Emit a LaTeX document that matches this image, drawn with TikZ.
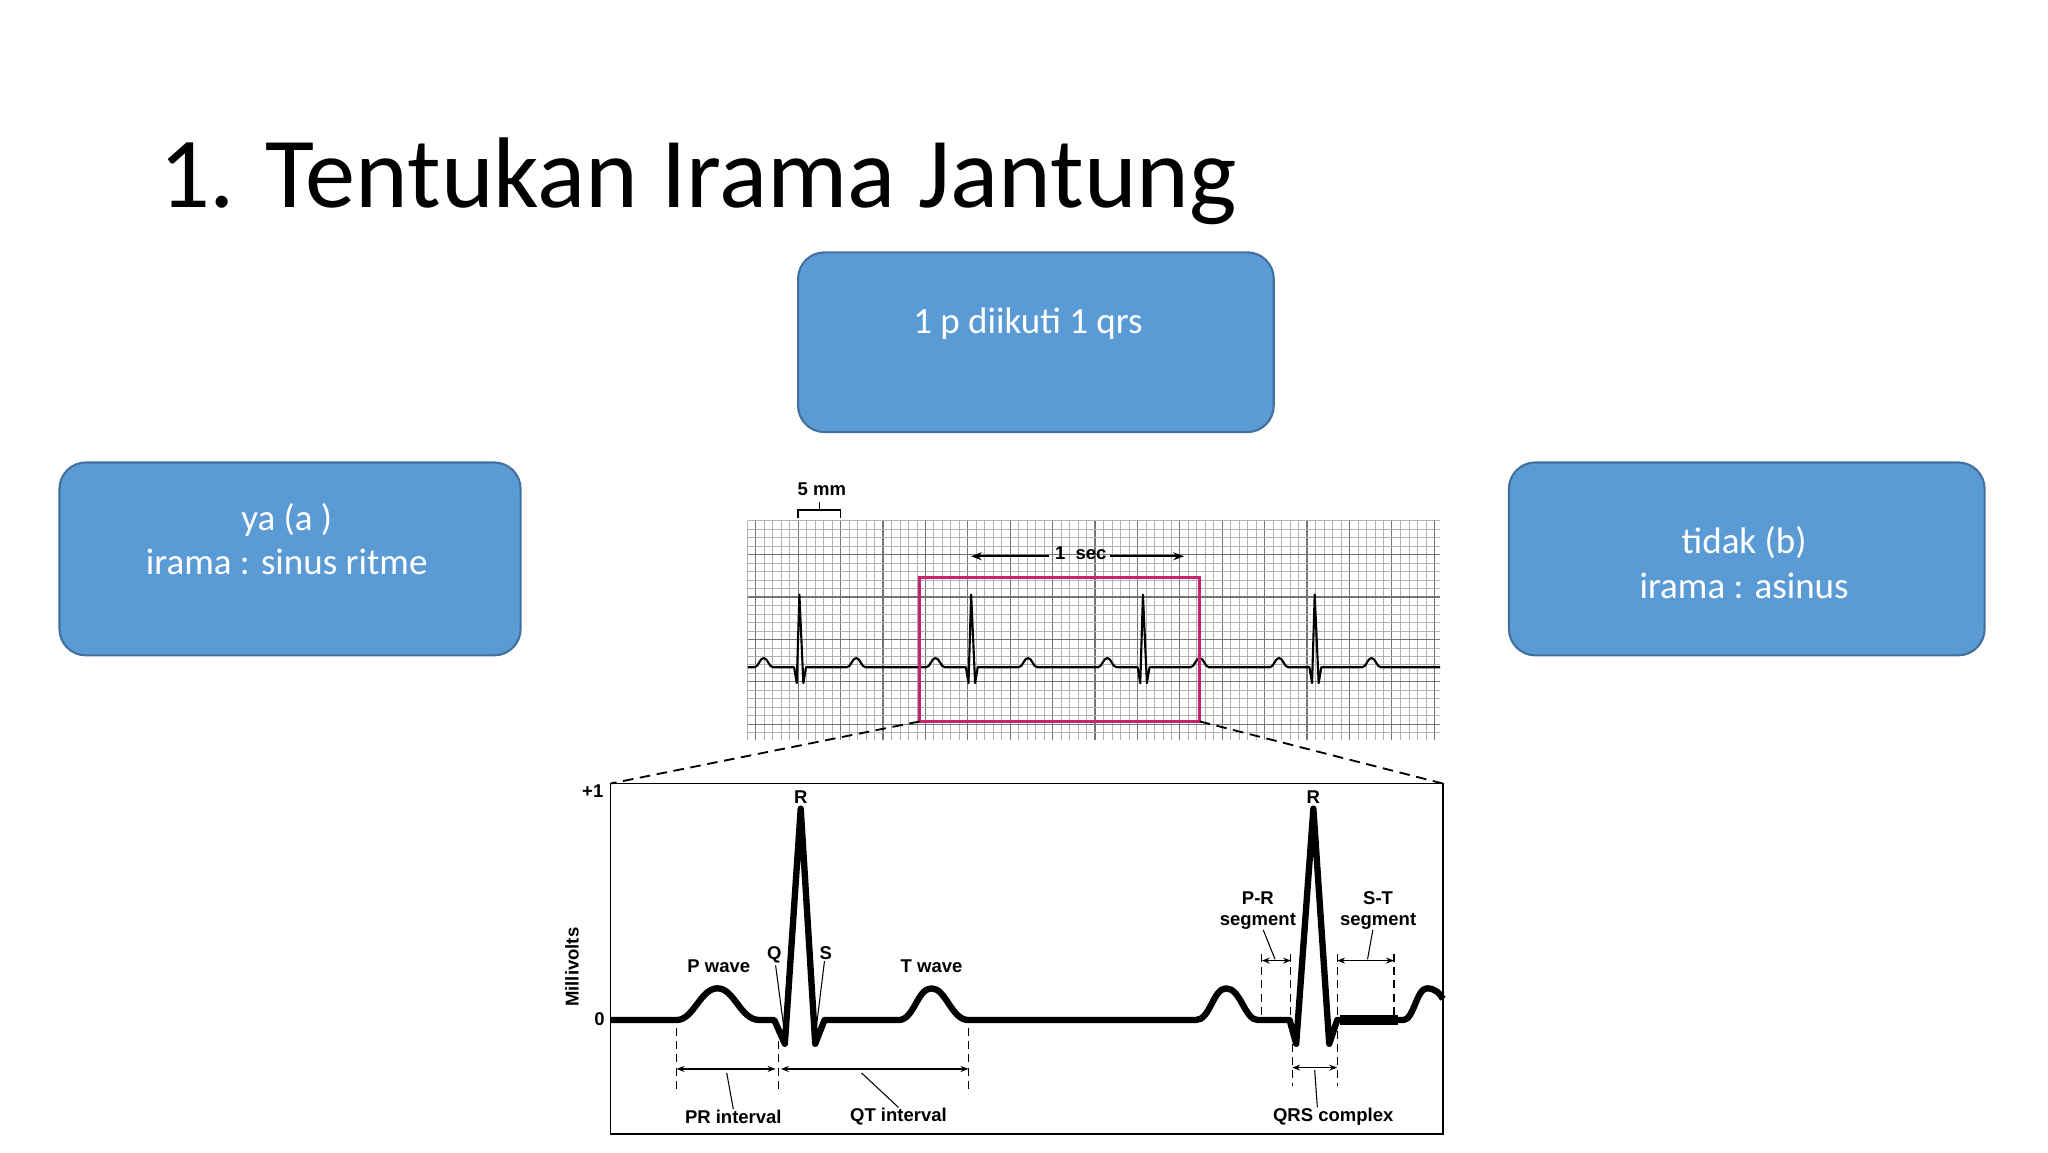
\documentclass[tikz,border=0pt]{standalone}
\usepackage{fontspec}
\setmainfont{Carlito}
\newfontfamily\arialf{Liberation Sans}
\usetikzlibrary{arrows.meta}
\definecolor{boxfill}{HTML}{5B9BD5}
\definecolor{boxline}{HTML}{41719C}
\definecolor{magbox}{HTML}{C8246E}
\begin{document}
\begin{tikzpicture}[x=0.5pt,y=-0.5pt,
  bluebox/.style={draw=boxline,line width=0.8pt,fill=boxfill,rounded corners=10pt},
  boxtext/.style={text=white,font=\fontsize{14}{17}\selectfont,align=center},
  lbl/.style={font=\arialf\bfseries\fontsize{7}{8}\selectfont,inner sep=0pt,align=center},
  dim/.style={{Stealth[length=3pt]}-{Stealth[length=3pt]},line width=0.5pt},
  vdash/.style={dashed,dash pattern=on 3pt off 2pt,line width=0.4pt}]
\useasboundingbox (0,0) rectangle (1550,872);
\fill[white] (0,0) rectangle (1550,872);
% title
\node[anchor=base west,inner sep=0pt,font=\fontsize{38}{44}\selectfont] (title) at (120,157) {1. Tentukan Irama Jantung};
% boxes
\draw[bluebox] (604,191) rectangle (964,327);
\node[boxtext] (t1) at (778,245) {1 p diikuti 1 qrs};
\draw[bluebox] (45,350) rectangle (394,496);
\node[boxtext] (t2) at (217,408) {ya (a )\\irama : sinus ritme};
\draw[bluebox] (1142,350) rectangle (1502,496);
\node[boxtext] (t3) at (1320,426) {tidak (b)\\irama : asinus};
% grid
\foreach \i in {0,...,81}{
  \pgfmathsetmacro\xx{565.5+6.42*\i}
  \pgfmathtruncatemacro\m{mod(\i,5)}
  \ifnum\m=1 \draw[black!55,line width=0.45pt] (\xx,394) -- (\xx,560);
  \else \draw[black!30,line width=0.25pt] (\xx,394) -- (\xx,560); \fi}
\foreach \j in {0,...,25}{
  \pgfmathsetmacro\yy{394+6.42*\j}
  \pgfmathtruncatemacro\m{mod(\j,5)}
  \ifnum\m=4 \draw[black!55,line width=0.45pt] (566,\yy) -- (1090,\yy);
  \else \draw[black!30,line width=0.25pt] (566,\yy) -- (1090,\yy); \fi}
% strip
\draw[line width=0.8pt,line join=round] (566,505)
 \foreach \r in {605,735,865,995}{
  -- ({\r-34},505) .. controls ({\r-31},505) and ({\r-30},498) .. ({\r-27},498) .. controls ({\r-24},498) and ({\r-23},505) .. ({\r-20},505)
  -- ({\r-4},505) -- ({\r-2},517) -- (\r,450) -- ({\r+3},517) -- ({\r+5},505)
  -- ({\r+36},505) .. controls ({\r+39},505) and ({\r+40},498) .. ({\r+43},498) .. controls ({\r+46},498) and ({\r+47},505) .. ({\r+50},505)
 } -- (1090,505);
\draw[magbox,line width=1pt] (696,437) rectangle (908,546);
% 5 mm
\node[lbl] (fivemm) at (622,370) {5 mm};
\draw[line width=0.5pt] (604,392) -- (604,386) -- (636,386) -- (636,392) (620,386) -- (620,380);
% 1 sec
\node[lbl] (onesec) at (818,419) {1\ \ sec};
\draw[-{Stealth[length=4pt]},line width=0.6pt] (onesec.west) ++(-4,2) -- (735,421);
\draw[-{Stealth[length=4pt]},line width=0.6pt] (onesec.east) ++(2,2) -- (896,421);
% zoom lines
\draw[dashed,dash pattern=on 4pt off 2.5pt,line width=0.7pt] (696,546) -- (462,593) (908,546) -- (1092,593);
% lower box
\draw[line width=0.7pt] (462,593) rectangle (1092,858);
\node[lbl,anchor=east] (p1) at (457,599) {+1};
\node[lbl,anchor=east] (z0) at (458,771) {0};
\node[lbl,rotate=90] (mv) at (433,732) {Millivolts};
\draw[line width=2.4pt,line join=round] (462,772) -- (512,772)
 .. controls (525,772) and (530,748) .. (543,748) .. controls (556,748) and (560,772) .. (575,772)
 -- (586,772) -- (594,790) -- (606,612) -- (617,790) -- (624,772) -- (680,772)
 .. controls (692,772) and (694,748) .. (705,748) .. controls (716,748) and (720,772) .. (733,772)
 -- (905,772) .. controls (916,772) and (918,748) .. (928,748) .. controls (939,748) and (942,772) .. (952,772)
 -- (976,772) -- (981,790) -- (994,612) -- (1006,790) -- (1012,772) -- (1062,772)
 .. controls (1070,772) and (1072,748) .. (1080,748) .. controls (1086,748) and (1090,752) .. (1092,756);
\draw[line width=3.6pt] (1014,772) -- (1058,772);
% labels
\node[lbl] (r1) at (606,603) {R};
\node[lbl] (r2) at (994,603) {R};
\node[lbl] (pw) at (544,731) {P wave};
\node[lbl] (q) at (586,723) {Q};
\node[lbl] (s) at (625,721) {S};
\node[lbl] (tw) at (705,731) {T wave};
\node[lbl] (prs) at (952,689) {P-R\\segment};
\node[lbl] (sts) at (1043,689) {S-T\\segment};
\node[lbl] (pri) at (555,845) {PR interval};
\node[lbl] (qti) at (680,845) {QT interval};
\node[lbl] (qrs) at (1009,845) {QRS complex};
\draw[line width=0.4pt] (q.south) ++(1,1) -- (593,776);
\draw[line width=0.4pt] (s.south) ++(-1,1) -- (618,776);
% dashed verticals
\draw[vdash] (512,778) -- (512,828) (589,778) -- (589,828) (733,778) -- (733,828)
 (955,722) -- (955,768) (977,722) -- (977,768) (1012,722) -- (1012,768) (1055,722) -- (1055,768)
 (978,780) -- (978,822) (1012,780) -- (1012,822);
\draw[dim] (512,809) -- (587,809);
\draw[dim] (591,809) -- (733,809);
\draw[dim] (955,727) -- (977,727);
\draw[dim] (1012,727) -- (1055,727);
\draw[dim] (978,808) -- (1012,808);
\draw[line width=0.4pt] (550,812) -- (pri.north);
\draw[line width=0.4pt] (652,812) -- (qti.north);
\draw[line width=0.4pt] (995,810) -- ([xshift=-6pt]qrs.north);
\draw[line width=0.4pt] (prs.south) ++(4,0) -- (965,726);
\draw[line width=0.4pt] (sts.south) ++(-4,0) -- (1035,726);
\end{tikzpicture}
\end{document}
